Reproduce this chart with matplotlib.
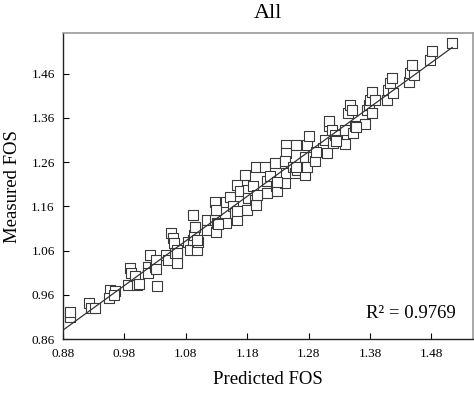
import numpy as np
import matplotlib
matplotlib.use("Agg")
import matplotlib.pyplot as plt

plt.rcParams['font.family'] = ['Liberation Serif', 'DejaVu Serif']

# predicted vs measured FOS
predicted = [0.891, 0.892, 0.922, 0.926, 0.932, 0.956, 0.955, 0.964, 0.963, 0.989,
             0.986, 0.991, 0.997, 1.000, 1.003, 1.021, 1.019, 1.019, 1.030, 1.031,
             1.032, 1.033, 1.048, 1.051, 1.056, 1.059, 1.060, 1.062, 1.065, 1.066,
             1.084, 1.087, 1.091, 1.093, 1.095, 1.092, 1.098, 1.100, 1.114, 1.114,
             1.127, 1.127, 1.129, 1.130, 1.131, 1.146, 1.146, 1.152, 1.157, 1.160,
             1.163, 1.163, 1.168, 1.176, 1.179, 1.181, 1.181, 1.189, 1.192, 1.194,
             1.195, 1.209, 1.212, 1.212, 1.217, 1.225, 1.227, 1.228, 1.241, 1.243,
             1.244, 1.243, 1.241, 1.254, 1.258, 1.260, 1.261, 1.274, 1.274, 1.277,
             1.280, 1.277, 1.288, 1.290, 1.304, 1.307, 1.310, 1.313, 1.313, 1.318,
             1.320, 1.323, 1.326, 1.340, 1.340, 1.345, 1.348, 1.351, 1.353, 1.356,
             1.372, 1.375, 1.378, 1.380, 1.383, 1.383, 1.388, 1.407, 1.410, 1.413,
             1.416, 1.418, 1.443, 1.446, 1.448, 1.451, 1.478, 1.481, 1.514,
             1.065, 1.098, 1.133, 1.164, 1.196, 1.228, 1.259, 1.292, 1.324, 1.357]
measured = [0.911, 0.921, 0.941, 0.930, 0.930, 0.971, 0.953, 0.968, 0.960, 1.020,
            0.983, 1.009, 1.002, 0.983, 0.985, 1.050, 1.024, 1.009, 1.024, 1.039,
            1.018, 0.981, 1.050, 1.039, 1.099, 1.088, 1.077, 1.054, 1.061, 1.032,
            1.080, 1.061, 1.084, 1.096, 1.114, 1.141, 1.061, 1.080, 1.129, 1.107,
            1.129, 1.171, 1.152, 1.103, 1.122, 1.171, 1.122, 1.182, 1.160, 1.145,
            1.129, 1.209, 1.194, 1.231, 1.152, 1.198, 1.179, 1.205, 1.175, 1.163,
            1.250, 1.250, 1.190, 1.217, 1.228, 1.258, 1.205, 1.194, 1.212, 1.235,
            1.299, 1.280, 1.262, 1.250, 1.235, 1.299, 1.243, 1.231, 1.272, 1.299,
            1.318, 1.250, 1.272, 1.262, 1.293, 1.311, 1.280, 1.342, 1.353, 1.333,
            1.303, 1.322, 1.311, 1.333, 1.302, 1.370, 1.389, 1.378, 1.326, 1.342,
            1.345, 1.378, 1.389, 1.401, 1.419, 1.370, 1.401, 1.401, 1.423, 1.438,
            1.449, 1.416, 1.441, 1.461, 1.480, 1.457, 1.491, 1.510, 1.529,
            1.055, 1.085, 1.120, 1.150, 1.185, 1.215, 1.248, 1.282, 1.308, 1.340]

x = np.array(predicted)
y = np.array(measured)

fig = plt.figure(figsize=(4.74, 3.94), dpi=100)
ax = fig.add_axes([0.133, 0.139, 0.865, 0.7765])

ax.scatter(x, y, marker='s', s=48, facecolors='white', edgecolors='#3a3a3a',
           linewidths=0.8, zorder=2)

# linear trend line
k, b = np.polyfit(x, y, 1)
xl = np.array([0.88, x.max()])
ax.plot(xl, k * xl + b, color='#333333', lw=0.9, zorder=3)

ax.set_xlim(0.88, 1.548)
ax.set_ylim(0.86, 1.551)
ax.set_xticks(np.arange(0.88, 1.49, 0.1))
ax.set_yticks(np.arange(0.86, 1.47, 0.1))
ax.xaxis.set_major_formatter(matplotlib.ticker.FormatStrFormatter('%.2f'))
ax.yaxis.set_major_formatter(matplotlib.ticker.FormatStrFormatter('%.2f'))
ax.tick_params(direction='in', length=4, width=0.8, labelsize=9.5, pad=6,
               top=False, right=False)

for s in ['left', 'bottom']:
    ax.spines[s].set_color('#222222')
    ax.spines[s].set_linewidth(1.0)
for s in ['top', 'right']:
    ax.spines[s].set_color('#999999')
    ax.spines[s].set_linewidth(1.2)

ax.set_xlabel('Predicted FOS', fontsize=13.5, labelpad=8)
ax.set_ylabel('Measured FOS', fontsize=13.5, labelpad=7)
ax.set_title('All', fontsize=16, pad=11)

ax.text(0.958, 0.055, 'R\u00b2 = 0.9769', transform=ax.transAxes,
        ha='right', va='bottom', fontsize=13.5)

fig.savefig('out.png', dpi=100)
